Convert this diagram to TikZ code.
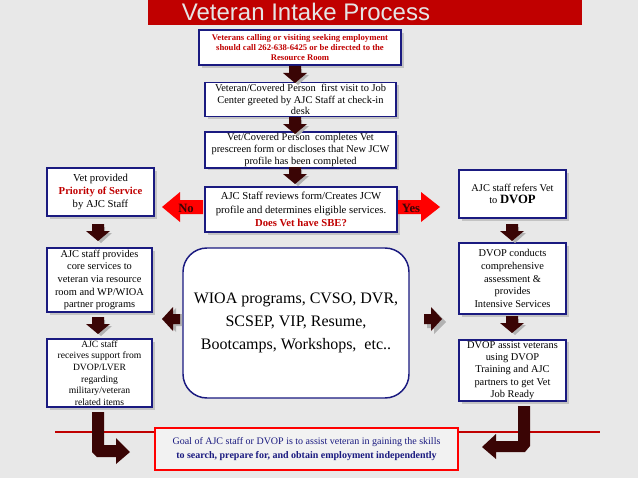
\documentclass[tikz,border=0pt]{standalone}
\usepackage{fontspec}
\setmainfont{Liberation Serif}
\newfontfamily\sansf{Liberation Sans}
\usetikzlibrary{shadows}
\definecolor{navy}{HTML}{1A1A80}
\definecolor{bred}{HTML}{C00000}
\definecolor{dred}{HTML}{3A0505}
\begin{document}
\begin{tikzpicture}[x=0.75pt,y=-0.75pt,
 box/.style={draw=navy,line width=1.1pt,fill=white,align=center,font=\fontsize{7.8}{8.8}\selectfont,inner sep=1pt,drop shadow={opacity=0.35,shadow xshift=2pt,shadow yshift=-2pt}},
 darr/.style={fill=dred,draw=none},
 sh/.style={fill=gray!60,draw=none}]
\fill[gray!18] (0,0) rectangle (638,478);
\useasboundingbox (0,0) rectangle (638,478);
% title
\fill[bred] (148,0) rectangle (582,25);
\node (title) at (306,12) {\sansf\fontsize{18}{18}\selectfont\color{gray!20}Veteran Intake Process};
% central column
\node[box,minimum width=202*0.75pt,minimum height=35*0.75pt,text=bred,font=\fontsize{6.5}{7.8}\selectfont\bfseries] (b1) at (300,47.5) {Veterans calling or visiting seeking employment\\ should call 262-638-6425 or be directed to the\\ Resource Room};
\node[box,minimum width=191*0.75pt,minimum height=31*0.75pt] (b2) at (300.5,99.5) {Veteran/Covered Person\ \ first visit to Job\\ Center greeted by AJC Staff at check-in\\ desk};
\node[box,minimum width=191*0.75pt,minimum height=32*0.75pt] (b3) at (300.5,150) {Vet/Covered Person\ \ completes Vet\\ prescreen form or discloses that New JCW\\ profile has been completed};
\node[box,minimum width=192*0.75pt,minimum height=45*0.75pt,font=\fontsize{8}{10}\selectfont] (b4) at (301,209.5) {AJC Staff reviews form/Creates JCW\\ profile and determines eligible services.\\ {\color{bred}\bfseries Does Vet have SBE?}};
% left column
\node[box,minimum width=107*0.75pt,minimum height=48*0.75pt,font=\fontsize{8}{9.5}\selectfont] (l1) at (100.5,192) {Vet provided\\ {\color{bred}\bfseries Priority of Service}\\ by AJC Staff};
\node[box,minimum width=105*0.75pt,minimum height=64*0.75pt,font=\fontsize{7.8}{9.5}\selectfont] (l2) at (99.5,280) {AJC staff provides\\ core services to\\ veteran via resource\\ room and WP/WIOA\\ partner programs};
\node[box,minimum width=105*0.75pt,minimum height=66*0.75pt,font=\fontsize{7.2}{8.8}\selectfont] (l3) at (99.5,373) {AJC staff\\ receives support from\\ DVOP/LVER\\ regarding\\ military/veteran\\ related items};
% right column
\node[box,minimum width=107*0.75pt,minimum height=48*0.75pt,font=\fontsize{7.8}{9.5}\selectfont] (r1) at (512.5,194) {AJC staff refers Vet\\ to {\bfseries\fontsize{9.5}{9.5}\selectfont DVOP}};
\node[box,minimum width=107*0.75pt,minimum height=71*0.75pt,font=\fontsize{7.8}{9.5}\selectfont] (r2) at (512.5,278.5) {DVOP conducts\\ comprehensive\\ assessment \&\\ provides\\ Intensive Services};
\node[box,minimum width=107*0.75pt,minimum height=61*0.75pt,font=\fontsize{7.8}{9.3}\selectfont] (r3) at (512.5,370.5) {DVOP assist veterans\\ using DVOP\\ Training and AJC\\ partners to get Vet\\ Job Ready};
% center rounded
\node[draw=navy,line width=1.1pt,fill=white,rounded corners=18pt,minimum width=226*0.75pt,minimum height=150*0.75pt,align=center,font=\fontsize{12}{17}\selectfont] (c) at (296,323) {WIOA programs, CVSO, DVR,\\ SCSEP, VIP, Resume,\\ Bootcamps, Workshops,\ \ etc..};
% down arrows
\foreach \X/\Y in {295/66,295/117,295/167,98/224,98/317,512/224,512/316}{
 \fill[sh] (\X-5,\Y+3) -- (\X+7,\Y+3) -- (\X+7,\Y+9) -- (\X+14,\Y+9) -- (\X+3,\Y+19) -- (\X-8,\Y+9) -- (\X-5,\Y+9) -- cycle;
 \fill[darr] (\X-6,\Y) -- (\X+6,\Y) -- (\X+6,\Y+7) -- (\X+12,\Y+7) -- (\X,\Y+17) -- (\X-12,\Y+7) -- (\X-6,\Y+7) -- cycle;
}
% No / Yes arrows
\fill[red] (203,200) -- (180,200) -- (180,192) -- (162,207) -- (180,222) -- (180,214) -- (203,214) -- cycle;
\node[font=\fontsize{9.5}{9.5}\selectfont\bfseries,text=dred] (nol) at (186,208) {No};
\fill[red] (398,200) -- (421,200) -- (421,192) -- (440,207) -- (421,222) -- (421,214) -- (398,214) -- cycle;
\node[font=\fontsize{9.5}{9.5}\selectfont\bfseries,text=dred] (yesl) at (411,208) {Yes};
% small side arrows
\fill[sh] (182,314) -- (176,314) -- (176,308) -- (165,320) -- (176,332) -- (176,326) -- (182,326) -- cycle;
\fill[darr] (180,314) -- (173,314) -- (173,307) -- (162,319) -- (173,331) -- (173,324) -- (180,324) -- cycle;
\fill[sh] (427,316) -- (434,316) -- (434,310) -- (446,322) -- (434,334) -- (434,328) -- (427,328) -- cycle;
\fill[darr] (424,314) -- (431,314) -- (431,307) -- (442,319) -- (431,331) -- (431,324) -- (424,324) -- cycle;
% bottom
\draw[bred,line width=1pt] (55,432) -- (600,432);
\node[draw=red,line width=1pt,fill=gray!10,minimum width=303*0.75pt,minimum height=42*0.75pt,align=center,font=\fontsize{7.5}{10}\selectfont,text=navy] (goal) at (306.5,449) {Goal of AJC staff or DVOP is to assist veteran in gaining the skills\\ {\bfseries to search, prepare for, and obtain employment independently}};
% bent arrows
\fill[dred] (92,412) -- (104,412) -- (104,445) -- (116,445) -- (116,438) -- (130,452) -- (116,464) -- (116,457) -- (97,457) -- (92,452) -- cycle;
\fill[dred] (518,406) -- (530,406) -- (530,446) -- (525,452) -- (496,452) -- (496,459) -- (482,447) -- (496,434) -- (496,441) -- (518,441) -- cycle;
\end{tikzpicture}
\end{document}
